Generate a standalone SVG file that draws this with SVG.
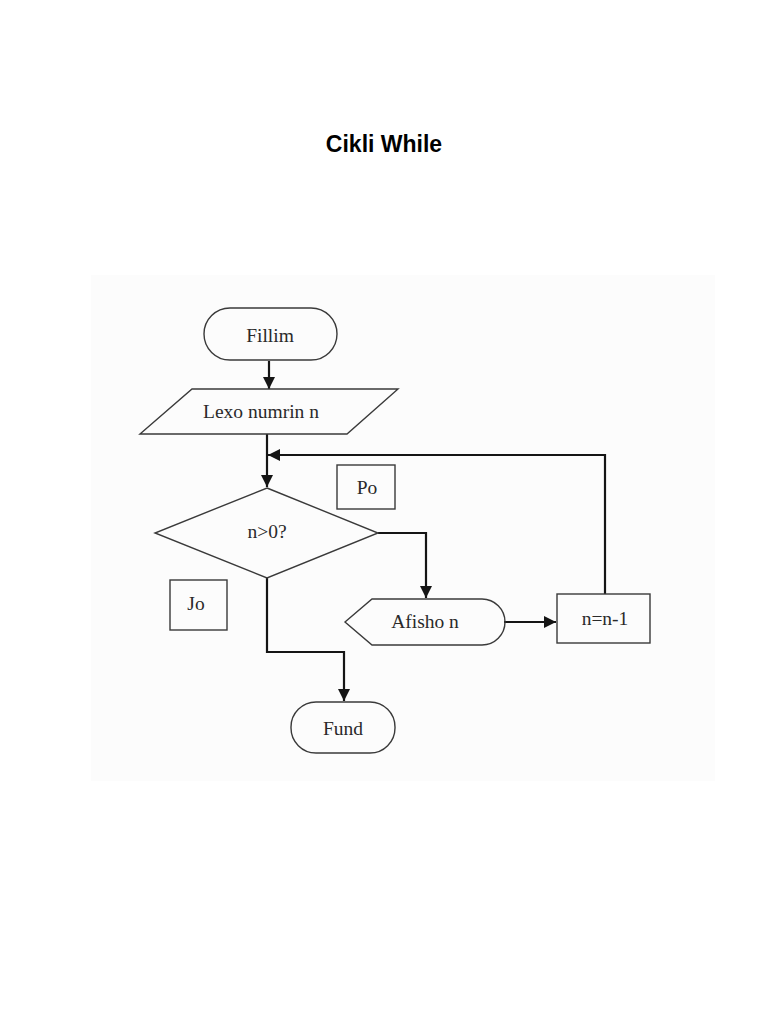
<svg xmlns="http://www.w3.org/2000/svg" width="768" height="1024" viewBox="0 0 768 1024">
<defs>
<style>
.shape{fill:none;stroke:#3a3a3a;stroke-width:1.4}
.conn{fill:none;stroke:#151515;stroke-width:2.2}
.lbl{font-family:"Liberation Serif","DejaVu Serif",serif;font-size:19.5px;fill:#2a2a2a;text-anchor:middle}
.title{font-family:"Liberation Sans",Arial,sans-serif;font-weight:bold;font-size:23px;fill:#000;text-anchor:middle}
</style>
<marker id="arrB" viewBox="0 0 10 10" refX="10" refY="5" markerWidth="12" markerHeight="12" markerUnits="userSpaceOnUse" orient="auto">
<path d="M0,0 L10,5 L0,10 z" fill="#151515"/>
</marker>
</defs>
<rect x="0" y="0" width="768" height="1024" fill="#ffffff"/>
<rect x="91" y="275" width="624" height="506" fill="#fcfcfc"/>
<text class="title" x="384" y="152">Cikli While</text>

<g id="connectors">
<line class="conn" x1="269" y1="361" x2="269" y2="389" marker-end="url(#arrB)"/>
<line class="conn" x1="267" y1="434" x2="267" y2="487" marker-end="url(#arrB)"/>
<polyline class="conn" points="605,594 605,455 268,455" marker-end="url(#arrB)"/>
<polyline class="conn" points="378,533 426,533 426,598" marker-end="url(#arrB)"/>
<line class="conn" x1="504" y1="622" x2="556" y2="622" marker-end="url(#arrB)"/>
<polyline class="conn" points="267,578 267,652 344,652 344,701" marker-end="url(#arrB)"/>
</g>

<g id="fillim">
<rect class="shape" x="204" y="308" width="133" height="52" rx="26" ry="26"/>
<text class="lbl" x="270" y="342">Fillim</text>
</g>
<g id="lexo">
<polygon class="shape" points="192,389 398,389 347,434 140,434"/>
<text class="lbl" x="261" y="418">Lexo numrin n</text>
</g>
<g id="cond">
<polygon class="shape" points="267,488 378,533 267,578 155,533"/>
<text class="lbl" x="267" y="538">n&gt;0?</text>
</g>
<g id="po">
<rect class="shape" x="337" y="465" width="58" height="44"/>
<text class="lbl" x="367" y="494">Po</text>
</g>
<g id="jo">
<rect class="shape" x="170" y="580" width="57" height="50"/>
<text class="lbl" x="196" y="610">Jo</text>
</g>
<g id="afisho">
<path class="shape" d="M345,622 L372,599 L482,599 A23,23 0 0 1 482,645 L372,645 Z"/>
<text class="lbl" x="425" y="628">Afisho n</text>
</g>
<g id="dec">
<rect class="shape" x="557" y="594" width="93" height="49"/>
<text class="lbl" x="605" y="625">n=n-1</text>
</g>
<g id="fund">
<rect class="shape" x="291" y="702" width="104" height="51" rx="25" ry="25"/>
<text class="lbl" x="343" y="735">Fund</text>
</g>
</svg>
